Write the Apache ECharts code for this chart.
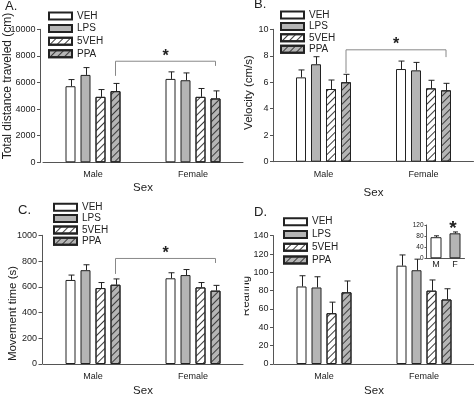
<!DOCTYPE html>
<html>
<head>
<meta charset="utf-8">
<script src="https://cdn.jsdelivr.net/npm/echarts@6/dist/echarts.min.js"></script>
<style>
  html, body { margin: 0; padding: 0; background: #fff; }
  #chart { width: 474px; height: 398px; }
</style>
</head>
<body>
<div id="chart"></div>
<script>
(function () {
  'use strict';

  const categories = ['Male', 'Female'];
  const groups = ['VEH', 'LPS', '5VEH', 'PPA'];

  // A. total distance traveled (cm): means and SEM, [Male, Female]
  const distMean = { VEH: [5720, 6270], LPS: [6570, 6170], '5VEH': [4920, 4920], PPA: [5350, 4800] };
  const distSem = { VEH: [500, 530], LPS: [550, 550], '5VEH': [550, 630], PPA: [580, 570] };
  const distBracket = [6500, 7600, 7250];

  // B. velocity (cm/s)
  const velMean = { VEH: [6.37, 7.0], LPS: [7.36, 6.9], '5VEH': [5.49, 5.54], PPA: [6.0, 5.39] };
  const velSem = { VEH: [0.56, 0.6], LPS: [0.57, 0.6], '5VEH': [0.68, 0.61], PPA: [0.6, 0.53] };
  const velBracket = [6.7, 8.45, 7.9];

  // C. movement time (s)
  const moveMean = { VEH: [653, 666], LPS: [729, 691], '5VEH': [590, 595], PPA: [616, 570] };
  const moveSem = { VEH: [38, 43], LPS: [42, 43], '5VEH': [43, 38], PPA: [45, 41] };
  const moveBracket = [700, 820, 785];

  // D. rearing
  const rearMean = { VEH: [84.6, 107.3], LPS: [83.5, 102.3], '5VEH': [55.4, 80], PPA: [78.2, 70.4] };
  const rearSem = { VEH: [11.7, 11.7], LPS: [11.7, 12.1], '5VEH': [12.1, 11.7], PPA: [12.4, 11.7] };

  // D inset: sex main effect
  const insetCats = ['M', 'F'];
  const insetMean = [76, 90];
  const insetSem = [5, 5];

  const FONT = 'Liberation Sans';
  const INK = '#222';
  const AXIS = '#555';
  const GRAY = '#b5b5b5';
  const BAR_W = 10;
  const SLOT = [-22.5, -7.5, 7.5, 22.5];

  const hatch = {
    symbol: 'rect',
    symbolSize: 1,
    dashArrayX: [10, 0],
    dashArrayY: [1, 4],
    rotation: -Math.PI / 4,
    color: '#3a3a3a'
  };

  const styles = {
    VEH: { color: '#fff', borderColor: INK, borderWidth: 1 },
    LPS: { color: GRAY, borderColor: INK, borderWidth: 1 },
    '5VEH': { color: '#fff', borderColor: INK, borderWidth: 1, decal: hatch },
    PPA: { color: GRAY, borderColor: INK, borderWidth: 1, decal: hatch }
  };

  const panels = [
    { grid: { left: 43, top: 29.3, width: 200, height: 133 }, yOffset: 2.5, max: 10000, interval: 2000,
      mean: distMean, sem: distSem, bracket: distBracket, nameGap: 20,
      legend: { left: 48, top: 10, itemGap: 0.6 } },
    { grid: { left: 273.5, top: 29.3, width: 200, height: 132.4 }, yOffset: 0, max: 10, interval: 2,
      mean: velMean, sem: velSem, bracket: velBracket, nameGap: 25,
      legend: { left: 280, top: 9, itemGap: -0.6 } },
    { grid: { left: 43, top: 235.3, width: 200, height: 133 }, yOffset: 1, max: 1000, interval: 200,
      mean: moveMean, sem: moveSem, bracket: moveBracket, nameGap: 21,
      legend: { left: 53, top: 201.3, itemGap: -0.7 } },
    { grid: { left: 274, top: 235.7, width: 200, height: 131.6 }, yOffset: 0.5, max: 140, interval: 20,
      mean: rearMean, sem: rearSem, bracket: null, nameGap: 21,
      legend: { left: 283, top: 215.7, itemGap: 0.8 } }
  ];

  function plain(v) { return String(v); }

  function errorRender(slot, capHalf) {
    return function (params, api) {
      const cat = api.value(0);
      const base = api.coord([cat, api.value(1)]);
      const tip = api.coord([cat, api.value(1) + api.value(2)]);
      const x = Math.round(base[0] + slot) + 0.5;
      const lineStyle = { stroke: INK, lineWidth: 1 };
      return {
        type: 'group',
        children: [
          { type: 'line', shape: { x1: x, y1: base[1], x2: x, y2: tip[1] }, style: lineStyle },
          { type: 'line', shape: { x1: x - capHalf, y1: tip[1], x2: x + capHalf, y2: tip[1] }, style: lineStyle }
        ]
      };
    };
  }

  function bracketRender(params, api) {
    const left = api.value(0), top = api.value(1), right = api.value(2);
    const p0 = api.coord([0, left]);
    const p1 = api.coord([0, top]);
    const p2 = api.coord([1, right]);
    const x0 = p0[0] + SLOT[3];
    const x1 = p2[0] + SLOT[3];
    return {
      type: 'group',
      children: [
        { type: 'polyline', shape: { points: [[x0, p0[1]], [x0, p1[1]], [x1, p1[1]], [x1, p2[1]]] },
          style: { stroke: '#888', lineWidth: 1, fill: null } },
        { type: 'text', x: (x0 + x1) / 2, y: p1[1] - 5,
          style: { text: '*', font: 'bold 16px ' + FONT, fill: INK, align: 'center', verticalAlign: 'middle' } }
      ]
    };
  }

  const grid = [], xAxis = [], yAxis = [], series = [], legend = [];

  panels.forEach(function (p, k) {
    grid.push(p.grid);
    xAxis.push({
      type: 'category', gridIndex: k, data: categories,
      name: 'Sex', nameLocation: 'middle', nameGap: p.nameGap,
      nameTextStyle: { fontFamily: FONT, fontSize: 11.5, color: INK },
      axisLine: { lineStyle: { color: AXIS, width: 1 } },
      axisTick: { alignWithLabel: true, length: 3, lineStyle: { color: AXIS } },
      axisLabel: { fontFamily: FONT, fontSize: 9, color: INK, margin: 8 }
    });
    yAxis.push({
      type: 'value', gridIndex: k, min: 0, max: p.max, interval: p.interval, offset: p.yOffset,
      splitLine: { show: false },
      axisLine: { show: true, lineStyle: { color: AXIS, width: 1 } },
      axisTick: { show: true, length: 3.5, lineStyle: { color: AXIS } },
      axisLabel: { fontFamily: FONT, fontSize: 9, color: INK, margin: 5, formatter: plain }
    });
    legend.push({
      orient: 'vertical', left: p.legend.left, top: p.legend.top, itemGap: p.legend.itemGap,
      itemWidth: 23, itemHeight: 7, icon: 'rect', padding: 0, selectedMode: false,
      textStyle: { fontFamily: FONT, fontSize: 10, color: INK, lineHeight: 12 },
      data: groups
    });
    groups.forEach(function (g, i) {
      series.push({
        type: 'bar', name: g, xAxisIndex: k, yAxisIndex: k,
        barWidth: BAR_W, barGap: '50%',
        itemStyle: styles[g],
        data: p.mean[g]
      });
      series.push({
        type: 'custom', name: g + ' err', xAxisIndex: k, yAxisIndex: k, z: 3,
        renderItem: errorRender(SLOT[i], 3),
        data: p.mean[g].map(function (m, c) { return [c, m, p.sem[g][c]]; })
      });
    });
    if (p.bracket) {
      series.push({
        type: 'custom', name: 'bracket', xAxisIndex: k, yAxisIndex: k, z: 4,
        renderItem: bracketRender,
        data: [p.bracket]
      });
    }
  });

  // inset of panel D
  grid.push({ left: 426.5, top: 225, width: 38, height: 33.3 });
  xAxis.push({
    type: 'category', gridIndex: 4, data: insetCats,
    axisLine: { lineStyle: { color: AXIS } },
    axisTick: { show: false },
    axisLabel: { fontFamily: FONT, fontSize: 9, color: INK, margin: 2 }
  });
  yAxis.push({
    type: 'value', gridIndex: 4, min: 0, max: 120, interval: 40,
    splitLine: { show: false },
    axisLine: { show: true, lineStyle: { color: AXIS } },
    axisTick: { show: true, length: 2, lineStyle: { color: AXIS } },
    axisLabel: { fontFamily: FONT, fontSize: 6.5, color: INK, margin: 3 }
  });
  series.push({
    type: 'bar', name: 'inset', xAxisIndex: 4, yAxisIndex: 4, barWidth: 11,
    data: [
      { value: insetMean[0], itemStyle: { color: '#fff', borderColor: INK, borderWidth: 1 } },
      { value: insetMean[1], itemStyle: { color: GRAY, borderColor: INK, borderWidth: 1 } }
    ]
  });
  series.push({
    type: 'custom', name: 'inset err', xAxisIndex: 4, yAxisIndex: 4, z: 3,
    renderItem: errorRender(0, 2.5),
    data: insetMean.map(function (m, c) { return [c, m, insetSem[c]]; })
  });

  function label(text, x, y, size, rot) {
    return {
      type: 'text', x: x, y: y, rotation: rot || 0, z: 10,
      style: { text: text, font: size + 'px ' + FONT, fill: INK,
        align: rot ? 'center' : 'left', verticalAlign: rot ? 'middle' : 'top' }
    };
  }

  const graphic = [
    label('A.', 5, 0, 13),
    label('B.', 254, -2, 13),
    label('C.', 18, 204, 13),
    label('D.', 254, 206, 13),
    label('Total distance traveled (cm)', 8, 86, 12, Math.PI / 2),
    label('Velocity (cm/s)', 249, 92.5, 11.5, Math.PI / 2),
    label('Movement time (s)', 12.5, 313.5, 11.5, Math.PI / 2),
    label('Rearing', 246, 296, 11.5, Math.PI / 2),
    // panel edge hides the left half of the Rearing label, as in the original figure
    { type: 'rect', shape: { x: 236, y: 265, width: 8.5, height: 60 }, style: { fill: '#fff' }, z: 11 },
    { type: 'text', x: 453, y: 229, z: 10,
      style: { text: '*', font: 'bold 19px ' + FONT, fill: INK, align: 'center', verticalAlign: 'middle' } }
  ];

  const chart = echarts.init(document.getElementById('chart'), null, { renderer: 'canvas' });
  chart.setOption({
    animation: false,
    backgroundColor: '#fff',
    grid: grid,
    xAxis: xAxis,
    yAxis: yAxis,
    legend: legend,
    series: series,
    graphic: graphic
  });
})();
</script>
</body>
</html>
